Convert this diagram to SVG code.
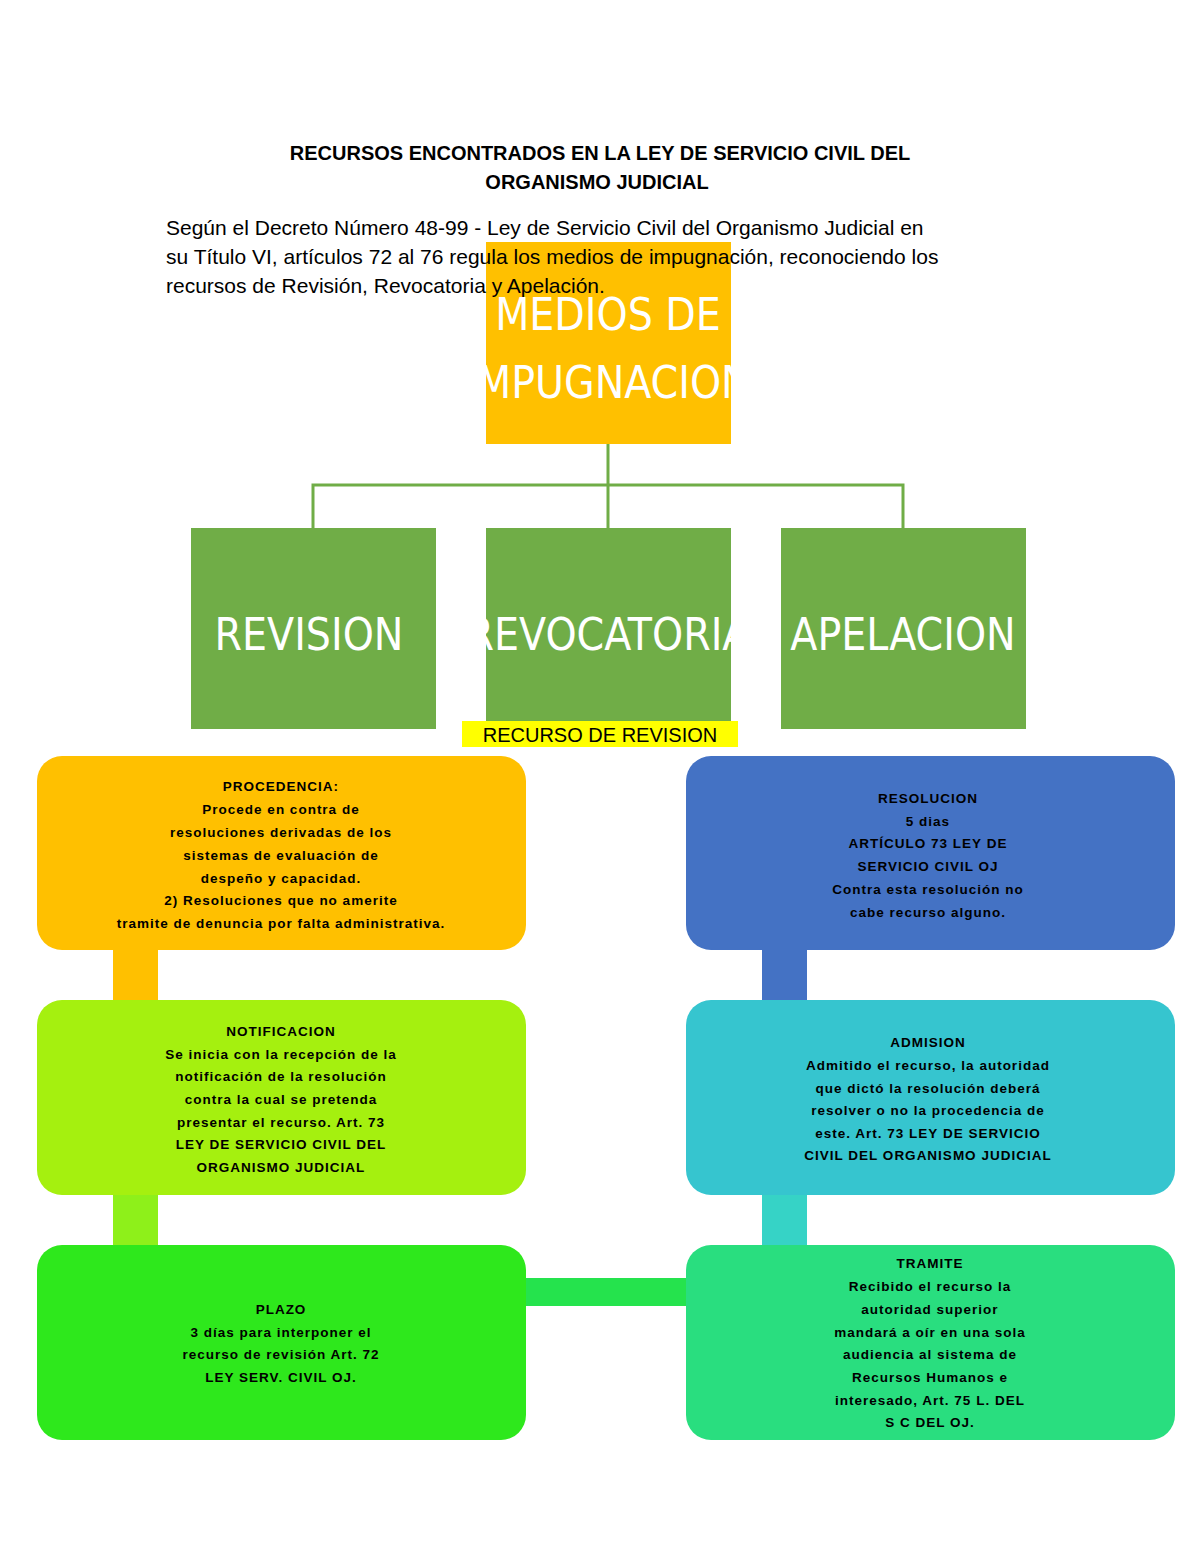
<svg xmlns="http://www.w3.org/2000/svg" width="1200" height="1553" viewBox="0 0 1200 1553">
<style>
.t{font-family:"Liberation Sans",Arial,sans-serif;fill:#000}
.h{font-size:20px;font-weight:bold}
.p{font-size:21px}
.big{font-family:"DejaVu Sans Condensed","DejaVu Sans",sans-serif;font-stretch:condensed;fill:#fff;font-size:44px;text-anchor:middle}
.b{font-family:"Liberation Sans",Arial,sans-serif;font-size:13.5px;font-weight:bold;letter-spacing:1px;text-anchor:middle;fill:#000}
.g{fill:#70AD47}
</style>
<rect width="1200" height="1553" fill="#fff"/>
<g id="title">
<text class="t h" x="600" y="160" text-anchor="middle">RECURSOS ENCONTRADOS EN LA LEY DE SERVICIO CIVIL DEL</text>
<text class="t h" x="597" y="189" text-anchor="middle">ORGANISMO JUDICIAL</text>
</g>
<g id="root"><rect x="486" y="242" width="245" height="202" fill="#FFC000"/>
<text class="big" x="608" y="330">MEDIOS DE</text><text class="big" x="608" y="398">IMPUGNACION</text></g>
<g id="intro">
<text class="t p" x="166" y="235">Según el Decreto Número 48-99 - Ley de Servicio Civil del Organismo Judicial en</text>
<text class="t p" x="166" y="264">su Título VI, artículos 72 al 76 regula los medios de impugnación, reconociendo los</text>
<text class="t p" x="166" y="293">recursos de Revisión, Revocatoria y Apelación.</text>
</g>
<g id="connectors">
<path d="M608 444V485M313 528V485H903V528M608 485V528" stroke="#70AD47" stroke-width="3" fill="none"/>
<rect x="113" y="948" width="45" height="54" fill="#FFC000"/>
<rect x="113" y="1193" width="45" height="54" fill="#8EF01A"/>
<rect x="762" y="948" width="45" height="54" fill="#4472C4"/>
<rect x="762" y="1193" width="45" height="54" fill="#36D3C6"/>
<rect x="524" y="1278" width="164" height="28" fill="#25E34D"/>
</g>
<g id="revision"><rect x="191" y="528" width="245" height="201" class="g"/><text class="big" x="309" y="650">REVISION</text></g>
<g id="revocatoria"><rect x="486" y="528" width="245" height="201" class="g"/><text class="big" x="608" y="650">REVOCATORIA</text></g>
<g id="apelacion"><rect x="781" y="528" width="245" height="201" class="g"/><text class="big" x="903" y="650">APELACION</text></g>
<g id="subtitle"><rect x="462" y="721" width="276" height="26" fill="#FFFF00"/>
<text class="t" x="600" y="742" text-anchor="middle" font-size="20">RECURSO DE REVISION</text></g>
<g id="procedencia"><rect x="37" y="756" width="489" height="194" rx="25" fill="#FFC000"/>
<text class="b"><tspan x="281" y="791">PROCEDENCIA:</tspan><tspan x="281" y="814">Procede en contra de</tspan><tspan x="281" y="837">resoluciones derivadas de los</tspan><tspan x="281" y="860">sistemas de evaluación de</tspan><tspan x="281" y="883">despeño y capacidad.</tspan><tspan x="281" y="905">2) Resoluciones que no amerite</tspan><tspan x="281" y="928">tramite de denuncia por falta administrativa.</tspan></text></g>
<g id="resolucion"><rect x="686" y="756" width="489" height="194" rx="25" fill="#4472C4"/>
<text class="b"><tspan x="928" y="803">RESOLUCION</tspan><tspan x="928" y="826">5 dias</tspan><tspan x="928" y="848">ARTÍCULO 73 LEY DE</tspan><tspan x="928" y="871">SERVICIO CIVIL OJ</tspan><tspan x="928" y="894">Contra esta resolución no</tspan><tspan x="928" y="917">cabe recurso alguno.</tspan></text></g>
<g id="notificacion"><rect x="37" y="1000" width="489" height="195" rx="25" fill="#A5F00F"/>
<text class="b"><tspan x="281" y="1036">NOTIFICACION</tspan><tspan x="281" y="1059">Se inicia con la recepción de la</tspan><tspan x="281" y="1081">notificación de la resolución</tspan><tspan x="281" y="1104">contra la cual se pretenda</tspan><tspan x="281" y="1127">presentar el recurso. Art. 73</tspan><tspan x="281" y="1149">LEY DE SERVICIO CIVIL DEL</tspan><tspan x="281" y="1172">ORGANISMO JUDICIAL</tspan></text></g>
<g id="admision"><rect x="686" y="1000" width="489" height="195" rx="25" fill="#36C5CF"/>
<text class="b"><tspan x="928" y="1047">ADMISION</tspan><tspan x="928" y="1070">Admitido el recurso, la autoridad</tspan><tspan x="928" y="1093">que dictó la resolución deberá</tspan><tspan x="928" y="1115">resolver o no la procedencia de</tspan><tspan x="928" y="1138">este. Art. 73 LEY DE SERVICIO</tspan><tspan x="928" y="1160">CIVIL DEL ORGANISMO JUDICIAL</tspan></text></g>
<g id="plazo"><rect x="37" y="1245" width="489" height="195" rx="25" fill="#2EE81C"/>
<text class="b"><tspan x="281" y="1314">PLAZO</tspan><tspan x="281" y="1337">3 días para interponer el</tspan><tspan x="281" y="1359">recurso de revisión Art. 72</tspan><tspan x="281" y="1382">LEY SERV. CIVIL OJ.</tspan></text></g>
<g id="tramite"><rect x="686" y="1245" width="489" height="195" rx="25" fill="#29DE7F"/>
<text class="b"><tspan x="930" y="1268">TRAMITE</tspan><tspan x="930" y="1291">Recibido el recurso la</tspan><tspan x="930" y="1314">autoridad superior</tspan><tspan x="930" y="1337">mandará a oír en una sola</tspan><tspan x="930" y="1359">audiencia al sistema de</tspan><tspan x="930" y="1382">Recursos Humanos e</tspan><tspan x="930" y="1405">interesado, Art. 75 L. DEL</tspan><tspan x="930" y="1427">S C DEL OJ.</tspan></text></g>
</svg>
